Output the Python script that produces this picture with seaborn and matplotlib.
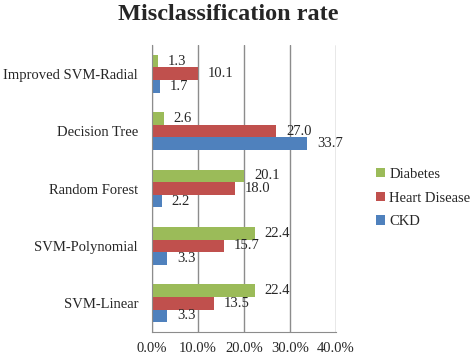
import numpy as np
import pandas as pd
import matplotlib
matplotlib.use("Agg")
import matplotlib.pyplot as plt
import seaborn as sns
from matplotlib.ticker import FuncFormatter

# chart data
models = ['Improved SVM-Radial', 'Decision Tree', 'Random Forest', 'SVM-Polynomial', 'SVM-Linear']
diabetes = [1.3, 2.6, 20.1, 22.4, 22.4]
heart_disease = [10.1, 27.0, 18.0, 15.7, 13.5]
ckd = [1.7, 33.7, 2.2, 3.3, 3.3]
series_names = ['Diabetes', 'Heart Disease', 'CKD']
series_colors = ['#9BBB59', '#C0504D', '#4F81BD']
x_ticks = [0, 10, 20, 30, 40]

df = pd.DataFrame({
    'Model': models * 3,
    'Rate': diabetes + heart_disease + ckd,
    'Disease': np.repeat(series_names, len(models)),
})

sns.set_style("white")
plt.rcParams['font.family'] = ['Liberation Serif', 'DejaVu Serif']
grey = '#8c8c8c'

fig = plt.figure(figsize=(4.74, 3.58), dpi=100)
ax = fig.add_axes([0.3207, 0.0726, 0.3882, 0.8017])

sns.barplot(data=df, y='Model', x='Rate', hue='Disease', order=models,
            hue_order=series_names, palette=series_colors, width=0.66,
            saturation=1, orient='h', errorbar=None, linewidth=0, ax=ax)

# value labels next to each bar
for cont in ax.containers:
    ax.bar_label(cont, fmt='%.1f', padding=7, fontsize=10.5)

ax.set_xlim(0, 40)
ax.set_xticks(x_ticks)
ax.xaxis.set_major_formatter(FuncFormatter(lambda v, p: '%.1f%%' % v))
ax.set_ylim(len(models) - 0.5, -0.5)
ax.set_yticks(np.arange(-0.5, len(models), 1), minor=True)
ax.xaxis.grid(True, color=grey, linewidth=1)
ax.set_axisbelow(True)
ax.set_xlabel('')
ax.set_ylabel('')

for side in ['top', 'right']:
    ax.spines[side].set_visible(False)
for side in ['left', 'bottom']:
    ax.spines[side].set_color(grey)

ax.tick_params(axis='y', which='major', length=0, pad=10, labelsize=10.5)
ax.tick_params(axis='y', which='minor', length=5, color=grey, direction='out')
ax.tick_params(axis='x', length=4, color=grey, direction='out', pad=3.5, labelsize=10.5)

fig.text(228 / 474, 1 - 14 / 358, 'Misclassification rate', ha='center', va='center',
         fontsize=17.5, fontweight='bold')

handles, labels = ax.get_legend_handles_labels()
ax.legend(handles, labels, loc='center left', bbox_to_anchor=(376 / 474, 1 - 198 / 358),
          bbox_transform=fig.transFigure, frameon=False, fontsize=10.5,
          handlelength=0.65, handleheight=0.65, handletextpad=0.25,
          labelspacing=0.75, borderpad=0, borderaxespad=0)

fig.savefig('out.png', dpi=100)
